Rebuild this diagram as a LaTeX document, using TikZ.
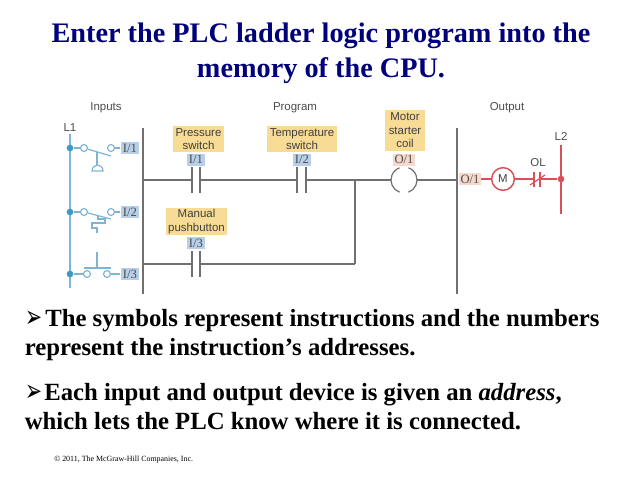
\documentclass[tikz,border=0pt]{standalone}
\usepackage{fontspec}
\setmainfont{Liberation Serif}
\setsansfont{Liberation Sans}
\newfontfamily\symfont{DejaVu Sans}
\usetikzlibrary{positioning}
\definecolor{rungc}{HTML}{707070}
\definecolor{inc}{HTML}{7FB5D3}
\definecolor{dotc}{HTML}{3F97C4}
\definecolor{outc}{HTML}{D8505A}
\definecolor{boxc}{HTML}{F8DB95}
\definecolor{labc}{HTML}{B7D0E8}
\definecolor{pinkc}{HTML}{F6D8CC}
\definecolor{titlec}{HTML}{00007A}
\tikzset{
  rung/.style={draw=rungc,line width=0.9pt},
  inl/.style={draw=inc,line width=0.9pt},
  outl/.style={draw=outc,line width=0.9pt},
  hdr/.style={font=\sffamily\fontsize{8.6}{10}\selectfont,text=black!70,inner sep=0pt},
  namebox/.style={fill=boxc,font=\sffamily\fontsize{8.6}{10.2}\selectfont,text=black!75,align=center,inner sep=0pt},
  addr/.style={fill=labc,font=\fontsize{9.5}{10}\selectfont,text=black!70,inner sep=1pt,minimum width=14pt,minimum height=9pt},
  term/.style={circle,draw=inc,line width=0.9pt,fill=white,inner sep=0pt,minimum size=5.2pt},
  junc/.style={circle,fill=dotc,inner sep=0pt,minimum size=5pt},
  ttl/.style={font=\bfseries\fontsize{21.2}{26}\selectfont,text=titlec,anchor=base,inner sep=0pt},
  para/.style={font=\bfseries\fontsize{18.55}{22}\selectfont,anchor=base west,inner sep=0pt},
  bul/.style={font=\symfont\fontsize{16}{16}\selectfont,inner sep=0pt}
}
\begin{document}
\begin{tikzpicture}[x=0.75pt,y=-0.75pt]
  \useasboundingbox (0,0) rectangle (638,478);
  % title
  \node (titlea) [ttl] at (321,43) {Enter the PLC ladder logic program into the};
  \node (titleb) [ttl] at (321,78) {memory of the CPU.};
  % headers
  \node (inputs)  [hdr] at (106,108) {Inputs};
  \node (program) [hdr] at (295,108) {Program};
  \node (output)  [hdr] at (507,108) {Output};
  \node (lone)    [hdr] at (70,128)  {L1};
  \node (ltwo)    [hdr] at (561,136) {L2};
  \node (ol)      [hdr] at (538,163) {OL};

  % rails
  \coordinate (lonetop) at (70,134);
  \coordinate (lonebot) at (70,288);
  \coordinate (railatop) at (143,128);
  \coordinate (railabot) at (143,294);
  \coordinate (railbtop) at (457,128);
  \coordinate (railbbot) at (457,294);
  \coordinate (ltwotop) at (561,145);
  \coordinate (ltwobot) at (561,214);
  \draw[inl] (lonetop) -- (lonebot);
  \draw[rung] (railatop) -- (railabot);
  \draw[rung] (railbtop) -- (railbbot);
  \draw[outl] (ltwotop) -- (ltwobot);

  % input side
  \node (da) [junc] at (70,148) {};
  \node (db) [junc] at (70,212) {};
  \node (dc) [junc] at (70,274) {};
  \node (ta) [term] at (84,148) {};
  \node (tb) [term] at (111,148) {};
  \node (tc) [term] at (84,212) {};
  \node (td) [term] at (111,212) {};
  \node (te) [term] at (87,274) {};
  \node (tf) [term] at (107,274) {};
  \node (ia) [addr] at (130,148) {I/1};
  \node (ib) [addr] at (130,212) {I/2};
  \node (ic) [addr] at (130,274) {I/3};
  \draw[inl] (da) -- (ta);
  \draw[inl] (tb) -- (ia);
  \draw[inl] (db) -- (tc);
  \draw[inl] (td) -- (ib);
  \draw[inl] (dc) -- (te);
  \draw[inl] (tf) -- (ic);
  \coordinate (swa) at (111,156);
  \coordinate (swb) at (111,219);
  \draw[inl] (ta) -- (swa);
  \draw[inl] (tc) -- (swb);
  % pressure, temperature, pushbutton
  \draw[inl] (97,152) -- (97,165);
  \draw[inl] (92,171) arc[start angle=180,end angle=360,x radius=5.5,y radius=6] -- cycle;
  \draw[inl] (98,216) -- (98,219) -- (105,219) -- (105,223) -- (92,223) -- (92,228) -- (97,228) -- (97,233);
  \draw[inl] (84,268) -- (111,268);
  \draw[inl] (97,268) -- (97,252);

  % program side
  \node (press) [namebox,minimum width=38.3pt,minimum height=19.5pt] at (198.5,139) {Pressure\\switch};
  \node (temp)  [namebox,minimum width=52.5pt,minimum height=19.5pt] at (302,139) {Temperature\\switch};
  \node (manual)[namebox,minimum width=45.8pt,minimum height=20.2pt] at (196.5,221.5) {Manual\\pushbutton};
  \node (motor) [namebox,minimum width=30pt,minimum height=30.7pt] at (405,130.5) {Motor\\starter\\coil};
  \node (pa) [addr] at (196,159.5) {I/1};
  \node (pb) [addr] at (302,159.5) {I/2};
  \node (pc) [addr] at (196,243) {I/3};
  \node (po) [addr,fill=pinkc] at (404,159.5) {O/1};

  \coordinate (ra) at (143,180);
  \coordinate (rb) at (143,264);
  \coordinate (ca) at (192,180);
  \coordinate (cb) at (200,180);
  \coordinate (cc) at (297,180);
  \coordinate (cd) at (306,180);
  \coordinate (ce) at (192,264);
  \coordinate (cf) at (200,264);
  \coordinate (jn) at (355,180);
  \coordinate (jb) at (355,264);
  \coordinate (cl) at (391,180);
  \coordinate (cr) at (417,180);
  \coordinate (rc) at (457,180);
  \path[rung] (ra) edge (ca);
  \path[rung] (cb) edge (cc);
  \path[rung] (cd) edge (cl);
  \path[rung] (cr) edge (rc);
  \path[rung] (rb) edge (ce);
  \path[rung] (cf) edge (jb);
  \path[rung] (jb) edge (jn);
  % contacts
  \foreach \cx/\cy in {192/180,200/180,297/180,306/180,192/264,200/264}
    \draw[rung] (\cx,\cy-13) -- (\cx,\cy+13);
  % coil
  \draw[rung] (404,180) ++(70:13) arc[start angle=70,end angle=-70,radius=13];
  \draw[rung] (404,180) ++(110:13) arc[start angle=110,end angle=250,radius=13];

  % output side
  \node (oo) [fill=pinkc,font=\fontsize{9.5}{10}\selectfont,text=black!70,inner sep=1pt] at (470,179) {O/1};
  \node (mot) [circle,draw=outc,line width=1.1pt,fill=white,font=\sffamily\fontsize{8.6}{10}\selectfont,text=black!75,inner sep=0pt,minimum size=17pt] at (503,179) {M};
  \node (dr) [circle,fill=outc,inner sep=0pt,minimum size=5pt] at (561,179) {};
  \coordinate (ola) at (534,179);
  \coordinate (olb) at (540,179);
  \draw[outl] (oo) -- (mot);
  \draw[outl] (mot) -- (ola);
  \draw[outl] (olb) -- (dr);
  \draw[outl] (534,172) -- (534,187);
  \draw[outl] (540,172) -- (540,187);
  \draw[outl] (530,185) -- (545,175);

  % text below
  \node (bulone) [bul] at (33.5,319) {\scalebox{0.95}[1.45]{➢}};
  \node (pone) [para] at (45,326) {The symbols represent instructions and the numbers};
  \node (ptwo) [para] at (24.5,355) {represent the instruction’s addresses.};
  \node (bultwo) [bul] at (33.5,393.5) {\scalebox{0.95}[1.45]{➢}};
  \node (pthree) [para] at (44,400) {Each input and output device is given an \textit{address},};
  \node (pfour) [para] at (24.5,429) {which lets the PLC know where it is connected.};
  \node (copy) [anchor=base west,inner sep=0pt,font=\fontsize{5.95}{8}\selectfont] at (54,461) {© 2011, The McGraw-Hill Companies, Inc.};
\end{tikzpicture}
\end{document}
